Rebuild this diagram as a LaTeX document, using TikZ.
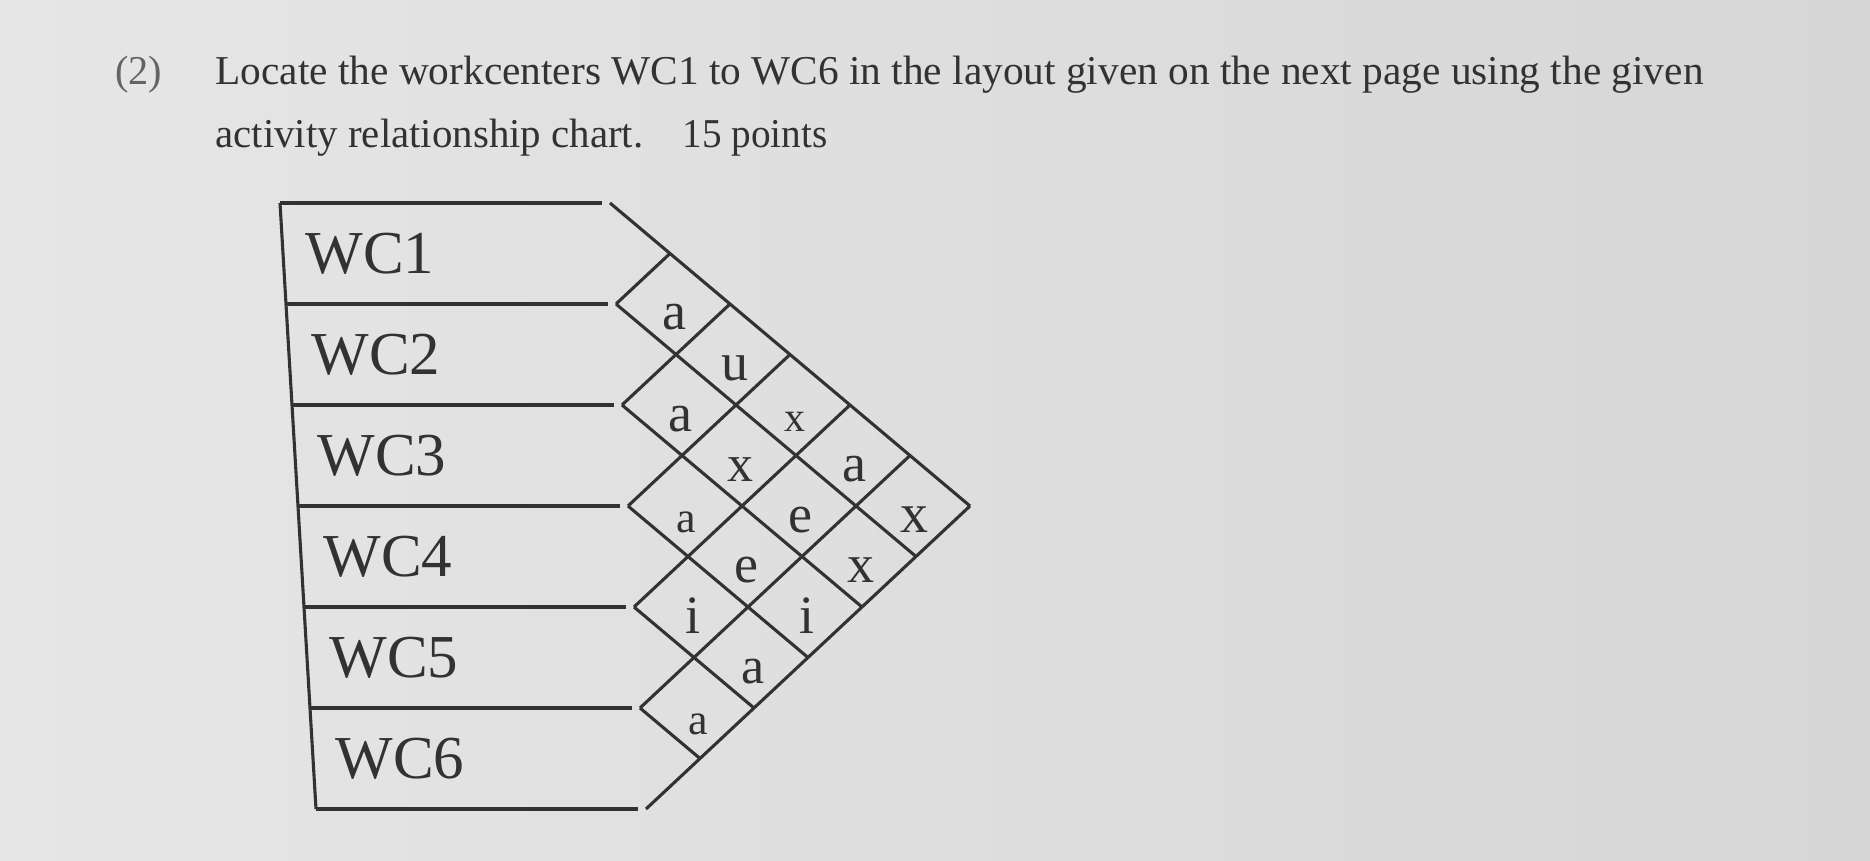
\documentclass[tikz,border=0pt]{standalone}
\usepackage{graphicx}
\usepackage{xcolor}
\usepackage{fontspec}
\setmainfont{Liberation Serif}
\usepackage{tikz}

\definecolor{screenL}{RGB}{230,230,230}
\definecolor{screenR}{RGB}{214,214,214}
\definecolor{ink}{RGB}{50,50,50}
\definecolor{inkL}{RGB}{100,100,100}

\begin{document}
\begin{tikzpicture}[x=0.5pt,y=-0.5pt]
\tikzset{every rule/.style={draw=ink,line width=1.55pt}}
\tikzset{every title/.style={inner sep=0pt,anchor=base west,text=ink,font=\fontsize{20.5}{24}\selectfont}}
\tikzset{every row/.style={inner sep=0pt,anchor=base west,text=ink,font=\fontsize{30.5}{31}\selectfont}}
\tikzset{every rel/.style={inner sep=0pt,anchor=base,text=ink}}

   \useasboundingbox (0,0) rectangle (1870,861);
   \shade[left color=screenL,right color=screenR] (0,0) rectangle (1870,861);

   % question text
   \node[every title,text=inkL] (num) at (115,85) {\resizebox{23.5pt}{\height}{(2)}};
   \node[every title] (line1) at (215,85)
     {\resizebox{744pt}{\height}{Locate the workcenters WC1 to WC6 in the layout given on the next page using the given}};
   \node[every title] (line2) at (215,148) {\resizebox{214pt}{\height}{activity relationship chart.}};
   \node[every title] (pts) at (682,148) {\resizebox{72.5pt}{\height}{15 points}};

   % relationship chart (slightly skewed, as photographed)
   \begin{scope}[shift={(0,203)},xslant=-0.0594]
     \draw[every rule] (280,0) -- (280,606);
     \foreach \k in {0,...,6}
        \draw[every rule] (280,\k*101) -- (602,\k*101);
     \foreach \k in {0,...,5}
        \draw[every rule] (610,\k*101) -- ++({(6-\k)*57},{(6-\k)*50.5});
     \foreach \k in {1,...,6}
        \draw[every rule] (610,\k*101) -- ++({\k*57},{-\k*50.5});

     \foreach \k in {1,...,6}
        \node[every row] (wc\k) at (301,{(\k-0.5)*101+20}) {WC\k};

     \foreach \i/\j/\rel/\sz in {%
       1/2/a/27, 1/3/u/27, 1/4/x/21, 1/5/a/27, 1/6/x/28,%
       2/3/a/27, 2/4/x/26, 2/5/e/27, 2/6/x/27,%
       3/4/a/22, 3/5/e/27, 3/6/i/27,%
       4/5/i/27, 4/6/a/26,%
       5/6/a/22}
        \node[every rel,font=\fontsize{\sz}{\sz}\selectfont] (c\i\j)
           at ({610+(\j-\i)*57},{(\i+\j-1)*50.5+26}) {\rel};
   \end{scope}
\end{tikzpicture}
\end{document}
